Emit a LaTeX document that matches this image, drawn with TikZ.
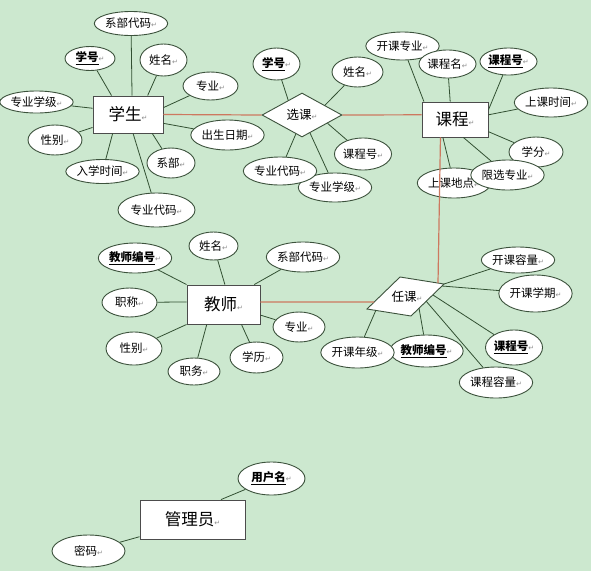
\documentclass[tikz,border=0pt]{standalone}
\usepackage{fontspec}
\setmainfont{Noto Sans CJK SC}
\newfontfamily\markfont{DejaVu Sans}
\usetikzlibrary{shapes.geometric}

\definecolor{paper}{RGB}{204,232,207}
\definecolor{edgegreen}{RGB}{60,82,60}
\definecolor{linegreen}{RGB}{50,80,50}
\definecolor{tiered}{RGB}{205,120,95}
\definecolor{markgray}{RGB}{140,140,140}

\newcommand{\pmark}{{\markfont\fontsize{7}{7}\selectfont\color{markgray}↵}}
\newcommand{\keyattr}[1]{\underline{\textbf{#1}}}

\begin{document}
\begin{tikzpicture}[x=1pt, y=-1pt,
    entity/.style={draw=black!70, fill=white, line width=0.9pt, inner sep=0pt,
        font=\fontsize{16.5}{16.5}\selectfont},
    attr/.style 2 args={ellipse, draw=edgegreen, fill=white, line width=0.9pt,
        inner sep=0pt, minimum width=#1pt, minimum height=#2pt,
        font=\fontsize{11.5}{11.5}\selectfont},
    rel/.style={diamond, draw=edgegreen, fill=white, line width=0.9pt, inner sep=0pt,
        aspect=1.8, font=\fontsize{12.5}{12.5}\selectfont},
    link/.style={draw=linegreen, line width=0.8pt},
    tie/.style={draw=tiered, line width=1.2pt}]

    % background and page size
    \useasboundingbox (0,0) rectangle (591,571);
    \fill[paper] (0,0) rectangle (591,571);

    % entities
    \node[entity, minimum width=70pt, minimum height=37pt] (xs) at (128,114.5) {学生\pmark};
    \node[entity, minimum width=66pt, minimum height=35pt] (kc) at (455,119.5) {课程\pmark};
    \node[entity, minimum width=73pt, minimum height=39pt] (js) at (223.5,304.5) {教师\pmark};
    \node[entity, minimum width=105pt, minimum height=39pt] (gly) at (192.5,519.5) {管理员\pmark};

    % relationship 选课
    \node[rel, minimum width=80pt, minimum height=44pt] (xk) at (302,115) {选课\pmark};

    % relationship 任课 (slanted box)
    \coordinate (rkA) at (367,309);
    \coordinate (rkB) at (400,277);
    \coordinate (rkC) at (444,284);
    \coordinate (rkD) at (411,316);
    \filldraw[draw=edgegreen, fill=white, line width=0.9pt] (rkA) -- (rkB) -- (rkC) -- (rkD) -- cycle;
    \node[font=\fontsize{12.5}{12.5}\selectfont, inner sep=0pt] (rk) at (407,297) {任课\pmark};
    \coordinate (rkL) at (374,302);
    \coordinate (rkT) at (438,283);
    \coordinate (rk1) at (442,286);
    \coordinate (rk2) at (433,295);
    \coordinate (rk3) at (426,301);
    \coordinate (rk4) at (419,308);
    \coordinate (rk5) at (376,310);

    % attributes of 学生
    \node[attr={72}{24}] (xbdm) at (131,23.5) {系部代码\pmark};
    \node[attr={50}{24}] (xh) at (90,58.5) {\keyattr{学号}\pmark};
    \node[attr={47}{32}] (xm) at (163.5,60) {姓名\pmark};
    \node[attr={55}{28}] (zy) at (210.5,86) {专业\pmark};
    \node[attr={67}{22}] (zyxj) at (36.5,102) {专业学级\pmark};
    \node[attr={54}{30}] (xb) at (55,140) {性别\pmark};
    \node[attr={71}{24}] (rxsj) at (102.5,171.5) {入学时间\pmark};
    \node[attr={48}{30}] (xbu) at (171,163) {系部\pmark};
    \node[attr={77}{34}] (zydm) at (156.5,210) {专业代码\pmark};
    \node[attr={65}{30}] (csrq) at (227.5,135) {出生日期\pmark};

    % attributes of 选课
    \node[attr={47}{32}] (xkxh) at (276.5,64) {\keyattr{学号}\pmark};
    \node[attr={51}{30}] (xkxm) at (357.5,72) {姓名\pmark};
    \node[attr={52}{32}] (xkkch) at (363,154) {课程号\pmark};
    \node[attr={54}{29}] (xkzyxj) at (335,187.5) {专业学级\pmark};
    \node[attr={54}{28}] (xkzydm) at (280,171) {专业代码\pmark};

    % attributes of 课程
    \node[attr={55}{28}] (kkzy) at (402.5,46) {开课专业\pmark};
    \node[attr={51}{28}] (kcm) at (447.5,64) {课程名\pmark};
    \node[attr={53}{27}] (kch) at (508.5,61.5) {\keyattr{课程号}\pmark};
    \node[attr={54}{29}] (sksj) at (551,102.5) {上课时间\pmark};
    \node[attr={54}{30}] (xf) at (536,152) {学分\pmark};
    \node[attr={56}{30}] (skdd) at (454,183) {上课地点\pmark};
    \node[attr={51}{30}] (xxzy) at (507.5,175) {限选专业\pmark};

    % attributes of 教师
    \node[attr={49}{28}] (jsxm) at (213.5,246) {姓名\pmark};
    \node[attr={60}{30}] (jsxbdm) at (303,257) {系部代码\pmark};
    \node[attr={54}{30}] (jsbh) at (135,258) {\keyattr{教师编号}\pmark};
    \node[attr={55}{29}] (jszc) at (129.5,302.5) {职称\pmark};
    \node[attr={56}{33}] (jsxb) at (134,348.5) {性别\pmark};
    \node[attr={52}{27}] (jszw) at (194,371.5) {职务\pmark};
    \node[attr={53}{31}] (jsxl) at (256.5,357.5) {学历\pmark};
    \node[attr={52}{30}] (jszy) at (299,327) {专业\pmark};

    % attributes of 任课
    \node[attr={58}{26}] (rkkkrl) at (518,260) {开课容量\pmark};
    \node[attr={55}{37}] (rkkkxq) at (535.5,293.5) {开课学期\pmark};
    \node[attr={56}{35}] (rkkch) at (514,347.5) {\keyattr{课程号}\pmark};
    \node[attr={58}{31}] (rkkcrl) at (496,382.5) {课程容量\pmark};
    \node[attr={53}{32}] (rkjsbh) at (426.5,351) {\keyattr{教师编号}\pmark};
    \node[attr={51}{31}] (rkkknj) at (357.5,352.5) {开课年级\pmark};

    % attributes of 管理员
    \node[attr={67}{33}] (yhm) at (271.5,478.5) {\keyattr{用户名}\pmark};
    \node[attr={73}{32}] (mm) at (88.5,551) {密码\pmark};

    % links of 学生
    \draw[link] (xbdm) -- (xs.78);
    \draw[link] (xh) -- (xs.131);
    \draw[link] (xm) -- (xs.44);
    \draw[link] (zy) -- (xs.11);
    \draw[link] (zyxj) -- (xs.170);
    \draw[link] (xb) -- (xs.200);
    \draw[link] (rxsj) -- (xs.231);
    \draw[link] (xbu) -- (xs.322);
    \draw[link] (zydm) -- (xs.285);
    \draw[link] (csrq) -- (xs.346);

    % links of 选课
    \draw[link] (xkxh) -- (xk.133);
    \draw[link] (xkxm) -- (xk.23);
    \draw[link] (xkkch) -- (xk.342);
    \draw[link] (xkzyxj) -- (xk.294);
    \draw[link] (xkzydm) -- (xk.252);

    % links of 课程
    \draw[link] (kkzy) -- (kc.150);
    \draw[link] (kcm) -- (kc.105);
    \draw[link] (kch) -- (kc.16);
    \draw[link] (sksj) -- (kc.8);
    \draw[link] (xf) -- (kc.340);
    \draw[link] (xxzy) -- (kc.295);
    \draw[link] (skdd) -- (kc.236);

    % links of 教师
    \draw[link] (jsxm) -- (js.86);
    \draw[link] (jsxbdm) -- (js.33);
    \draw[link] (jsbh) -- (js.north west);
    \draw[link] (jszc) -- (js.176);
    \draw[link] (jsxb) -- (js.south west);
    \draw[link] (jszw) -- (js.230);
    \draw[link] (jsxl) -- (js.312);
    \draw[link] (jszy) -- (js.344);

    % links of 任课
    \draw[link] (rkkkrl) -- (rkC);
    \draw[link] (rkkkxq) -- (rk1);
    \draw[link] (rkkch) -- (rk2);
    \draw[link] (rkkcrl) -- (rk3);
    \draw[link] (rkjsbh) -- (rk4);
    \draw[link] (rkkknj) -- (rk5);

    % links of 管理员
    \draw[link] (yhm) -- (gly.35);
    \draw[link] (mm) -- (gly.198);

    % entity to relationship lines
    \draw[tie] (xs.east) -- (xk.west);
    \draw[tie] (xk.east) -- (kc.172);
    \draw[tie] (kc.231) -- (rkT);
    \draw[tie] (js.4) -- (rkL);
\end{tikzpicture}
\end{document}
